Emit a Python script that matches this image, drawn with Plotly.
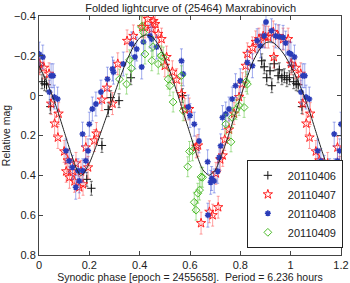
import plotly.graph_objects as go

# ---- fitted lightcurve ----
curve_phase = [0.000, 0.025, 0.050, 0.075, 0.100, 0.125, 0.150, 0.165, 0.175, 0.200,
               0.225, 0.250, 0.275, 0.300, 0.325, 0.350, 0.375, 0.400, 0.425, 0.450,
               0.475, 0.500, 0.525, 0.550, 0.575, 0.600, 0.625, 0.650, 0.675, 0.700,
               0.725, 0.750, 0.775, 0.800, 0.825, 0.850, 0.875, 0.900, 0.925, 0.950,
               0.975, 1.000, 1.025, 1.050, 1.075, 1.100, 1.125, 1.150, 1.165, 1.175, 1.200]
curve_mag = [-0.150, -0.085, -0.010, 0.080, 0.180, 0.280, 0.370, 0.400, 0.395, 0.340,
             0.260, 0.170, 0.080, -0.010, -0.100, -0.180, -0.245, -0.290, -0.305, -0.295,
             -0.255, -0.190, -0.105, -0.010, 0.090, 0.190, 0.290, 0.370, 0.400, 0.375,
             0.300, 0.210, 0.110, 0.010, -0.085, -0.170, -0.230, -0.265, -0.270, -0.245,
             -0.205, -0.150, -0.085, -0.010, 0.080, 0.180, 0.280, 0.370, 0.400, 0.395, 0.340]

# ---- 20110406 ----
n0406_phase = [0.004, 0.012, 0.022, 0.030, 0.045, 0.190, 0.208, 0.250, 0.275, 0.285,
               0.318, 0.365, 0.570, 0.885, 0.895, 0.905, 0.918, 0.925, 0.935, 0.950,
               0.955, 0.965, 0.975, 0.985, 0.995]
n0406_mag = [-0.150, -0.070, -0.060, -0.055, 0.055, 0.420, 0.465, 0.250, 0.070, 0.010,
             0.025, -0.090, 0.000, -0.175, -0.145, -0.090, -0.125, -0.050, -0.160, -0.100,
             -0.130, -0.090, -0.100, -0.080, -0.090]
n0406_err = 0.035

# ---- 20110407 ----
n0407_phase = [0.002, 0.020, 0.040, 0.048, 0.062, 0.075, 0.078, 0.100, 0.108, 0.114,
               0.121, 0.135, 0.141, 0.147, 0.160, 0.167, 0.175, 0.186, 0.195, 0.220,
               0.228, 0.250, 0.270, 0.292, 0.313, 0.350, 0.375, 0.410, 0.421, 0.432,
               0.448, 0.455, 0.462, 0.474, 0.487, 0.500, 0.507, 0.530, 0.547, 0.566,
               0.580, 0.597, 0.625, 0.632, 0.644, 0.677, 0.690, 0.703, 0.712, 0.720,
               0.730, 0.738, 0.755, 0.775, 0.795, 0.808, 0.821, 0.828, 0.848, 0.861,
               0.874, 0.891, 0.900, 0.911, 0.931, 0.933, 0.950, 0.970, 0.990]
n0407_mag = [-0.160, -0.140, -0.110, 0.040, 0.140, 0.210, 0.090, 0.280, 0.380, 0.325,
             0.410, 0.380, 0.430, 0.340, 0.460, 0.380, 0.445, 0.260, 0.360, 0.225,
             0.190, 0.020, -0.040, 0.040, -0.160, -0.275, -0.300, -0.345, -0.345, -0.385,
             -0.335, -0.375, -0.360, -0.310, -0.284, -0.150, -0.194, -0.120, -0.080, -0.008,
             0.070, 0.067, 0.257, 0.250, 0.640, 0.583, 0.600, 0.390, 0.560, 0.320,
             0.300, 0.220, 0.170, 0.090, 0.007, -0.060, -0.150, -0.210, -0.240, -0.270,
             -0.284, -0.300, -0.295, -0.294, -0.320, -0.194, -0.300, -0.284, -0.284]
n0407_err = 0.055

# ---- 20110408 ----
n0408_phase = [0.001, 0.015, 0.041, 0.048, 0.056, 0.061, 0.074, 0.107, 0.120, 0.133,
               0.146, 0.155, 0.160, 0.173, 0.174, 0.186, 0.195, 0.200, 0.212, 0.226,
               0.246, 0.272, 0.292, 0.296, 0.335, 0.368, 0.381, 0.388, 0.408, 0.415,
               0.441, 0.448, 0.467, 0.566, 0.573, 0.593, 0.600, 0.617, 0.636, 0.670,
               0.671, 0.682, 0.686, 0.696, 0.710, 0.716, 0.722, 0.729, 0.742, 0.755,
               0.768, 0.781, 0.800, 0.828, 0.848, 0.867, 0.880, 0.895, 0.902, 0.924,
               0.940, 0.954, 0.970, 0.980, 0.994]
n0408_mag = [-0.209, -0.194, -0.018, -0.100, -0.100, 0.007, 0.017, 0.277, 0.327, 0.360,
             0.460, 0.377, 0.428, 0.193, 0.377, 0.327, 0.277, 0.143, 0.067, 0.042,
             -0.018, -0.083, -0.134, -0.118, -0.159, -0.260, -0.194, -0.234, -0.144, -0.270,
             -0.300, -0.284, -0.244, -0.175, -0.109, 0.057, 0.100, 0.143, 0.227, 0.332,
             0.600, 0.435, 0.416, 0.428, 0.380, 0.310, 0.252, 0.110, 0.092, 0.067,
             0.017, -0.050, -0.075, -0.167, -0.150, -0.276, -0.250, -0.300, -0.370, -0.326,
             -0.300, -0.296, -0.293, -0.264, -0.214]
n0408_err = 0.06

# ---- 20110409 ----
n0409_phase = [0.320, 0.348, 0.360, 0.367, 0.407, 0.415, 0.421, 0.448, 0.453, 0.474,
               0.485, 0.494, 0.513, 0.520, 0.533, 0.566, 0.573, 0.591, 0.598, 0.610,
               0.617, 0.624, 0.631, 0.638, 0.644, 0.650, 0.742, 0.763, 0.768, 0.783,
               0.795, 0.815, 0.823, 0.828]
n0409_mag = [-0.083, -0.058, -0.180, -0.137, -0.346, -0.318, -0.209, -0.175, -0.246, -0.159,
             -0.200, -0.194, -0.083, -0.050, 0.032, -0.100, 0.076, 0.357, 0.280, 0.277,
             0.535, 0.575, 0.490, 0.474, 0.408, 0.410, 0.143, 0.232, 0.110, 0.070,
             0.050, 0.059, -0.070, -0.058]
n0409_err = 0.05

nights = ["20110406", "20110407", "20110408", "20110409"]


def fold(ph, mg):
    """Repeat the first 0.2 of phase after phase 1, as in the folded plot."""
    xs = list(ph) + [p + 1 for p in ph if p <= 0.2]
    ys = list(mg) + [m for p, m in zip(ph, mg) if p <= 0.2]
    return xs, ys


series = [
    (nights[0], n0406_phase, n0406_mag, n0406_err,
     dict(symbol="cross-thin-open", size=6, color="#111111", line=dict(color="#111111", width=1)),
     "rgba(60,60,60,0.7)"),
    (nights[1], n0407_phase, n0407_mag, n0407_err,
     dict(symbol="star-open", size=7, color="#ff2020", line=dict(color="#ff2020", width=1)),
     "rgba(255,70,70,0.5)"),
    (nights[2], n0408_phase, n0408_mag, n0408_err,
     dict(symbol="asterisk-open", size=5, color="#2a3cb8", line=dict(color="#2a3cb8", width=1.5)),
     "rgba(70,90,220,0.5)"),
    (nights[3], n0409_phase, n0409_mag, n0409_err,
     dict(symbol="diamond-open", size=6, color="#4cbb2a", line=dict(color="#4cbb2a", width=1)),
     "rgba(100,200,70,0.55)"),
]

fig = go.Figure()
for name, ph, mg, err, mk, ecol in series:
    xs, ys = fold(ph, mg)
    fig.add_trace(go.Scatter(
        x=xs, y=ys, mode="markers", name=name, marker=mk,
        error_y=dict(type="constant", value=err, color=ecol, thickness=1, width=1.5),
    ))

fig.add_trace(go.Scatter(x=curve_phase, y=curve_mag, mode="lines", showlegend=False,
                         line=dict(color="#222222", width=1, shape="spline", smoothing=0.6),
                         hoverinfo="skip"))

font_family = "Liberation Sans, Arial, sans-serif"
axis_common = dict(showgrid=False, zeroline=False, showline=True, linecolor="#444444",
                   linewidth=1, mirror="ticks", ticks="inside", ticklen=4,
                   tickcolor="#444444", tickfont=dict(size=11, color="#222222"),
                   automargin=False)

fig.update_layout(
    width=350, height=283,
    margin=dict(l=39, r=8, t=16, b=28),
    paper_bgcolor="white", plot_bgcolor="white",
    font=dict(family=font_family, color="#222222"),
    title=dict(text="Folded lightcurve of (25464) Maxrabinovich", x=0.545, xanchor="center",
               y=0.972, yanchor="middle", font=dict(size=11)),
    xaxis=dict(range=[0, 1.2], dtick=0.2, tick0=0,
               title=dict(text="Synodic phase [epoch = 2455658].  Period = 6.236 hours",
                          font=dict(size=10.5), standoff=2),
               **axis_common),
    yaxis=dict(range=[0.8, -0.4], dtick=0.2, tick0=0,
               title=dict(text="Relative mag", font=dict(size=10.5), standoff=3),
               **axis_common),
    legend=dict(x=0.686, y=0.03, xanchor="left", yanchor="bottom",
                bgcolor="white", bordercolor="#222222", borderwidth=1,
                font=dict(size=11), tracegroupgap=0, itemwidth=30),
    showlegend=True,
)

fig.write_html("out.html", config={"displayModeBar": False},
               post_script="document.body.style.margin='0';document.body.style.padding='0';"
                           "document.documentElement.style.overflow='hidden';")
